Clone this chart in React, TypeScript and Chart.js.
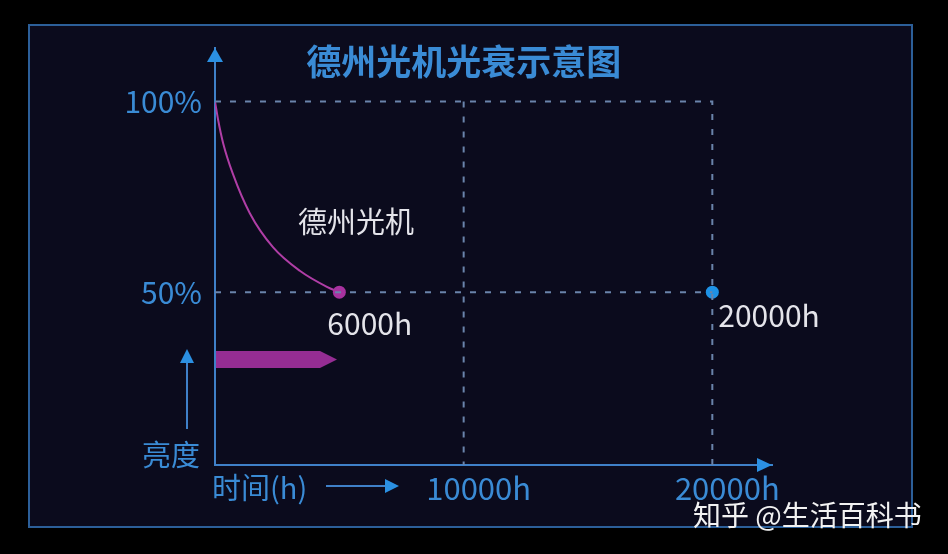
import React, { useEffect, useRef } from "react";
import { Chart, registerables } from "chart.js";

Chart.register(...registerables);

// ---- data ----
const curveHours = [0, 130, 330, 720, 1400, 2330, 3410, 4500, 5000];
const curveBrightness = [100, 95, 89, 81, 70.7, 61.8, 55.6, 51.4, 50];
const refHours = [20000];
const refBrightness = [50];
const xTickValues = [10000, 20000];
const xTickLabels = ["10000h", "20000h"];
const yTickValues = [50, 100];
const yTickLabels = ["50%", "100%"];
const endLabels = ["6000h", "20000h"];
const seriesName = "德州光机";
const titleText = "德州光机光衰示意图";
const yAxisName = "亮度";
const xAxisName = "时间(h)";
const watermark = "知乎 @生活百科书";
const X_MIN = 0;
const X_MAX = 22400;
const Y_MIN = 4.7;
const Y_MAX = 114;

const FONT = '"Noto Sans CJK SC", "Noto Sans", sans-serif';
const BLUE_TEXT = "#3a8bd5";
const AXIS_BLUE = "#3f80c8";
const ARROW_BLUE = "#2b90e2";
const GRID = "#6a84ab";
const PURPLE = "#952d93";

const W = 948;
const H = 554;

const decorPlugin = {
  id: "decor",
  beforeDraw(chart: any) {
    const { ctx } = chart;
    ctx.save();
    ctx.fillStyle = "#000000";
    ctx.fillRect(0, 0, W, H);
    ctx.fillStyle = "#0b0b1d";
    ctx.fillRect(29, 25, 883, 502);
    ctx.strokeStyle = "#2c5f99";
    ctx.lineWidth = 2;
    ctx.strokeRect(29, 25, 883, 502);
    ctx.restore();
  },
  afterDraw(chart: any) {
    const { ctx, chartArea } = chart;
    const xs = chart.scales.x;
    const ys = chart.scales.y;
    const L = chartArea.left;
    const B = chartArea.bottom;
    ctx.save();
    // axis arrowheads
    ctx.fillStyle = ARROW_BLUE;
    ctx.beginPath();
    ctx.moveTo(L, chartArea.top);
    ctx.lineTo(L - 8, chartArea.top + 14);
    ctx.lineTo(L + 8, chartArea.top + 14);
    ctx.closePath();
    ctx.fill();
    ctx.beginPath();
    ctx.moveTo(chartArea.right, B);
    ctx.lineTo(chartArea.right - 15, B - 7);
    ctx.lineTo(chartArea.right - 15, B + 7);
    ctx.closePath();
    ctx.fill();

    // title
    ctx.fillStyle = BLUE_TEXT;
    ctx.font = `bold 35px ${FONT}`;
    ctx.textAlign = "center";
    ctx.textBaseline = "middle";
    ctx.fillText(titleText, xs.getPixelForValue(10000), 62);

    // series label
    ctx.fillStyle = "#e4e4ea";
    ctx.font = `29px ${FONT}`;
    ctx.textAlign = "left";
    ctx.fillText(seriesName, xs.getPixelForValue(3340), ys.getPixelForValue(68.4));

    // end point labels
    ctx.font = `30px ${FONT}`;
    const n = curveHours.length - 1;
    const p1x = xs.getPixelForValue(curveHours[n]);
    const p1y = ys.getPixelForValue(curveBrightness[n]);
    ctx.fillText(endLabels[0], p1x - 12, p1y + 31);
    const p2x = xs.getPixelForValue(refHours[0]);
    const p2y = ys.getPixelForValue(refBrightness[0]);
    ctx.fillText(endLabels[1], p2x + 6, p2y + 23);

    // purple arrow marker
    ctx.fillStyle = PURPLE;
    ctx.beginPath();
    ctx.moveTo(L + 1, 351);
    ctx.lineTo(L + 105, 351);
    ctx.lineTo(L + 122, 359.5);
    ctx.lineTo(L + 105, 368);
    ctx.lineTo(L + 1, 368);
    ctx.closePath();
    ctx.fill();

    // y axis name with up arrow
    ctx.strokeStyle = AXIS_BLUE;
    ctx.lineWidth = 2;
    ctx.beginPath();
    ctx.moveTo(187, 429);
    ctx.lineTo(187, 360);
    ctx.stroke();
    ctx.fillStyle = ARROW_BLUE;
    ctx.beginPath();
    ctx.moveTo(187, 349);
    ctx.lineTo(180, 363);
    ctx.lineTo(194, 363);
    ctx.closePath();
    ctx.fill();
    ctx.fillStyle = BLUE_TEXT;
    ctx.font = `29px ${FONT}`;
    ctx.textAlign = "center";
    ctx.fillText(yAxisName, 171, 455);

    // x axis name with right arrow
    ctx.textAlign = "left";
    ctx.fillText(xAxisName, 212, 488);
    ctx.beginPath();
    ctx.moveTo(326, 486);
    ctx.lineTo(386, 486);
    ctx.stroke();
    ctx.fillStyle = ARROW_BLUE;
    ctx.beginPath();
    ctx.moveTo(399, 486);
    ctx.lineTo(385, 479);
    ctx.lineTo(385, 493);
    ctx.closePath();
    ctx.fill();

    // watermark
    ctx.fillStyle = "#f2f2f2";
    ctx.font = `28px ${FONT}`;
    ctx.textAlign = "left";
    ctx.fillText(watermark, 693, 515);
    ctx.restore();
  },
};

export default function App() {
  const ref = useRef<HTMLCanvasElement | null>(null);
  useEffect(() => {
    if (!ref.current) return;
    const dash = [6, 9];
    const gridDs = (pts: { x: number; y: number }[]) => ({
      data: pts,
      borderColor: GRID,
      borderWidth: 2,
      borderDash: dash,
      pointRadius: 0,
      tension: 0,
      fill: false,
    });
    const chart = new Chart(ref.current, {
      type: "line",
      data: {
        datasets: [
          gridDs([
            { x: X_MIN, y: yTickValues[1] },
            { x: xTickValues[1], y: yTickValues[1] },
            { x: xTickValues[1], y: Y_MIN },
          ]),
          gridDs([
            { x: X_MIN, y: yTickValues[0] },
            { x: xTickValues[1], y: yTickValues[0] },
          ]),
          gridDs([
            { x: xTickValues[0], y: yTickValues[1] },
            { x: xTickValues[0], y: Y_MIN },
          ]),
          {
            data: curveHours.map((h, i) => ({ x: h, y: curveBrightness[i] })),
            borderColor: "#b03ea6",
            borderWidth: 2,
            cubicInterpolationMode: "monotone",
            pointRadius: curveHours.map((_, i) => (i === curveHours.length - 1 ? 6.5 : 0)),
            pointBackgroundColor: "#a8329f",
            pointBorderWidth: 0,
            fill: false,
          },
          {
            data: refHours.map((h, i) => ({ x: h, y: refBrightness[i] })),
            showLine: false,
            pointRadius: 6.5,
            pointBackgroundColor: "#1e92e6",
            pointBorderWidth: 0,
          },
        ] as any,
      },
      options: {
        animation: false,
        responsive: false,
        devicePixelRatio: 1,
        layout: { padding: { left: 0, right: W - 772, top: 48, bottom: 49 } },
        plugins: {
          legend: { display: false },
          tooltip: { enabled: false },
          title: { display: false },
        },
        scales: {
          x: {
            type: "linear",
            min: X_MIN,
            max: X_MAX,
            afterBuildTicks: (s: any) => {
              s.ticks = xTickValues.map((v) => ({ value: v }));
            },
            afterFit: (s: any) => {
              s.height = 40;
            },
            grid: { display: false, drawTicks: false },
            border: { display: true, color: AXIS_BLUE, width: 2 },
            ticks: {
              padding: 5,
              labelOffset: 15,
              color: BLUE_TEXT,
              font: { size: 31, family: FONT },
              maxRotation: 0,
              autoSkip: false,
              callback: (v: any) => xTickLabels[xTickValues.indexOf(Number(v))] ?? "",
            },
          },
          y: {
            type: "linear",
            min: Y_MIN,
            max: Y_MAX,
            afterBuildTicks: (s: any) => {
              s.ticks = yTickValues.map((v) => ({ value: v }));
            },
            afterFit: (s: any) => {
              s.width = 215;
            },
            grid: { display: false, drawTicks: false },
            border: { display: true, color: AXIS_BLUE, width: 2 },
            ticks: {
              padding: 13,
              color: BLUE_TEXT,
              font: { size: 30, family: FONT },
              autoSkip: false,
              callback: (v: any) => yTickLabels[yTickValues.indexOf(Number(v))] ?? "",
            },
          },
        },
      } as any,
      plugins: [decorPlugin],
    });
    return () => chart.destroy();
  }, []);
  return (
    <canvas
      ref={ref}
      width={W}
      height={H}
      style={{ position: "fixed", left: 0, top: 0, width: W, height: H, display: "block" }}
    />
  );
}
